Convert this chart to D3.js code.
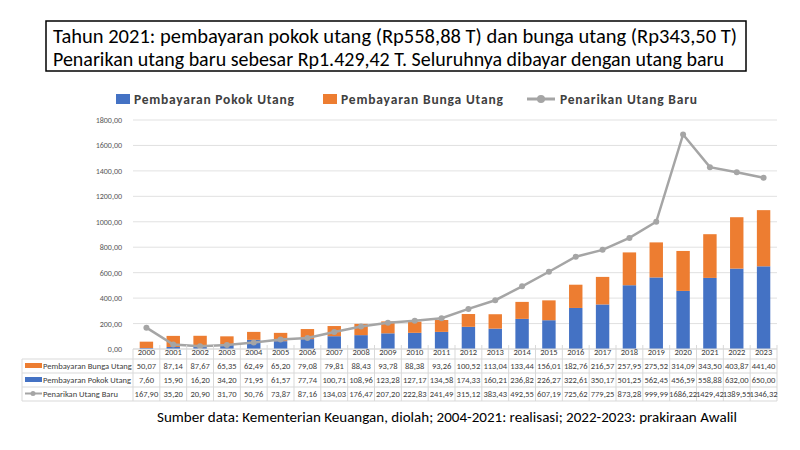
<!DOCTYPE html>
<html><head><meta charset="utf-8">
<script src="https://cdn.jsdelivr.net/npm/d3@7"></script>
<style>body{margin:0;background:#fff;font-family:Calibri,Carlito,"Liberation Sans",sans-serif}</style>
</head><body><svg id="c" width="800" height="450"></svg>
<script>
var years = ['2000','2001','2002','2003','2004','2005','2006','2007','2008','2009','2010','2011','2012','2013','2014','2015','2016','2017','2018','2019','2020','2021','2022','2023'];
var bunga = [50.07,87.14,87.67,65.35,62.49,65.20,79.08,79.81,88.43,93.78,88.38,93.26,100.52,113.04,133.44,156.01,182.76,216.57,257.95,275.52,314.09,343.50,403.87,441.40];
var pokok = [7.60,15.90,16.20,34.20,71.95,61.57,77.74,100.71,108.96,123.28,127.17,134.58,174.33,160.21,236.82,226.27,322.61,350.17,501.25,562.45,456.59,558.88,632.00,650.00];
var penarikan = [167.90,35.20,20.90,31.70,50.76,73.87,87.16,134.03,176.47,207.20,222.83,241.49,315.12,383.43,492.55,607.19,725.62,779.25,873.28,999.99,1686.22,1429.42,1389.55,1346.32];
var yTicks = [0,200,400,600,800,1000,1200,1400,1600,1800];

var C_BUNGA = '#ed7d31', C_POKOK = '#4472c4', C_LINE = '#a5a5a5';
var svg = d3.select('#c');
var fmt = function(v){ return v.toFixed(2).replace('.', ','); };

// title box
svg.append('rect').attr('x',46).attr('y',21).attr('width',700).attr('height',50).attr('fill','none').attr('stroke','#000').attr('stroke-width',1.5);
svg.append('text').attr('x',53).attr('y',43).attr('font-size',20.5).attr('textLength',684).attr('lengthAdjust','spacingAndGlyphs')
  .text('Tahun 2021: pembayaran pokok utang (Rp558,88 T) dan bunga utang (Rp343,50 T)');
svg.append('text').attr('x',53).attr('y',66).attr('font-size',20.5).attr('textLength',671).attr('lengthAdjust','spacingAndGlyphs')
  .text('Penarikan utang baru sebesar Rp1.429,42 T. Seluruhnya dibayar dengan utang baru');

// legend
var lg = svg.append('g').attr('font-size',13.5).attr('font-weight','bold').attr('fill','#404040');
lg.append('rect').attr('x',116).attr('y',94).attr('width',14).attr('height',10).attr('fill',C_POKOK);
lg.append('text').attr('x',134).attr('y',104).attr('textLength',160).text('Pembayaran Pokok Utang');
lg.append('rect').attr('x',323).attr('y',94).attr('width',14).attr('height',10).attr('fill',C_BUNGA);
lg.append('text').attr('x',341).attr('y',104).attr('textLength',162).text('Pembayaran Bunga Utang');
lg.append('line').attr('x1',527).attr('x2',555).attr('y1',99).attr('y2',99).attr('stroke',C_LINE).attr('stroke-width',3);
lg.append('circle').attr('cx',541).attr('cy',99).attr('r',4).attr('fill',C_LINE);
lg.append('text').attr('x',560).attr('y',104).attr('textLength',137).text('Penarikan Utang Baru');

var x = d3.scaleBand().domain(years).range([133,777]).paddingInner(0.5).paddingOuter(0.25);
var y = d3.scaleLinear().domain([0,1800]).range([349,120]);

// gridlines
svg.append('g').selectAll('line').data(yTicks).join('line')
  .attr('x1',133).attr('x2',777).attr('y1',d=>y(d)).attr('y2',d=>y(d))
  .attr('stroke','#d9d9d9').attr('stroke-width',0.8);
svg.append('g').attr('font-size',8).attr('fill','#595959').attr('text-anchor','end')
  .selectAll('text').data(yTicks).join('text')
  .attr('x',122).attr('y',d=>y(d)+3).text(d=>fmt(d));

// bars
svg.append('g').selectAll('rect').data(years).join('rect')
  .attr('x',d=>x(d)).attr('width',x.bandwidth())
  .attr('y',(d,i)=>y(pokok[i])).attr('height',(d,i)=>y(0)-y(pokok[i])).attr('fill',C_POKOK);
svg.append('g').selectAll('rect').data(years).join('rect')
  .attr('x',d=>x(d)).attr('width',x.bandwidth())
  .attr('y',(d,i)=>y(pokok[i]+bunga[i])).attr('height',(d,i)=>y(pokok[i])-y(pokok[i]+bunga[i])).attr('fill',C_BUNGA);

// line
var cx = d=>x(d)+x.bandwidth()/2;
svg.append('path').datum(years)
  .attr('d',d3.line().x(cx).y((d,i)=>y(penarikan[i])))
  .attr('fill','none').attr('stroke',C_LINE).attr('stroke-width',2.5);
svg.append('g').selectAll('circle').data(years).join('circle')
  .attr('cx',cx).attr('cy',(d,i)=>y(penarikan[i])).attr('r',3).attr('fill',C_LINE);

// data table
var step = x.step();
var rowsY = [345,359,373,387,401];
var tg = svg.append('g');
tg.selectAll('line.h').data(rowsY.slice(1)).join('line')
  .attr('x1',22).attr('x2',777).attr('y1',d=>d).attr('y2',d=>d).attr('stroke','#d9d9d9');
tg.selectAll('line.v').data(years.concat(['end'])).join('line')
  .attr('x1',(d,i)=>133+i*step).attr('x2',(d,i)=>133+i*step)
  .attr('y1',(d,i)=>i==0?349:345).attr('y2',401).attr('stroke','#d9d9d9');
tg.append('line').attr('x1',22).attr('x2',22).attr('y1',359).attr('y2',401).attr('stroke','#d9d9d9');
tg.append('line').attr('x1',133).attr('x2',777).attr('y1',349).attr('y2',349).attr('stroke','#d9d9d9');
var tt = tg.append('g').attr('font-size',8.5).attr('fill','#404040').attr('text-anchor','middle');
tt.selectAll('text.yr').data(years).join('text').attr('x',cx).attr('y',355).text(d=>d);
var rows = [[bunga,C_BUNGA,'Pembayaran Bunga Utang','r'],[pokok,C_POKOK,'Pembayaran Pokok Utang','r'],[penarikan,C_LINE,'Penarikan Utang Baru','l']];
rows.forEach(function(r,k){
  var yy = rowsY[k+1]+10;
  tt.append('g').selectAll('text').data(r[0]).join('text').attr('x',(d,i)=>cx(years[i])).attr('y',yy).text(d=>fmt(d));
  if (r[3]=='r') tg.append('rect').attr('x',25).attr('y',yy-6).attr('width',17).attr('height',5).attr('fill',r[1]);
  else { tg.append('line').attr('x1',25).attr('x2',42).attr('y1',yy-3.5).attr('y2',yy-3.5).attr('stroke',r[1]).attr('stroke-width',2);
         tg.append('circle').attr('cx',33).attr('cy',yy-3.5).attr('r',2.5).attr('fill',r[1]); }
  tg.append('text').attr('x',43).attr('y',yy).attr('font-size',8.5).attr('fill','#404040').text(r[2]);
});

svg.append('text').attr('x',737).attr('y',422).attr('text-anchor','end').attr('font-size',14.5)
  .attr('textLength',580).attr('lengthAdjust','spacingAndGlyphs')
  .text('Sumber data: Kementerian Keuangan, diolah; 2004-2021: realisasi; 2022-2023: prakiraan Awalil');
</script></body></html>
